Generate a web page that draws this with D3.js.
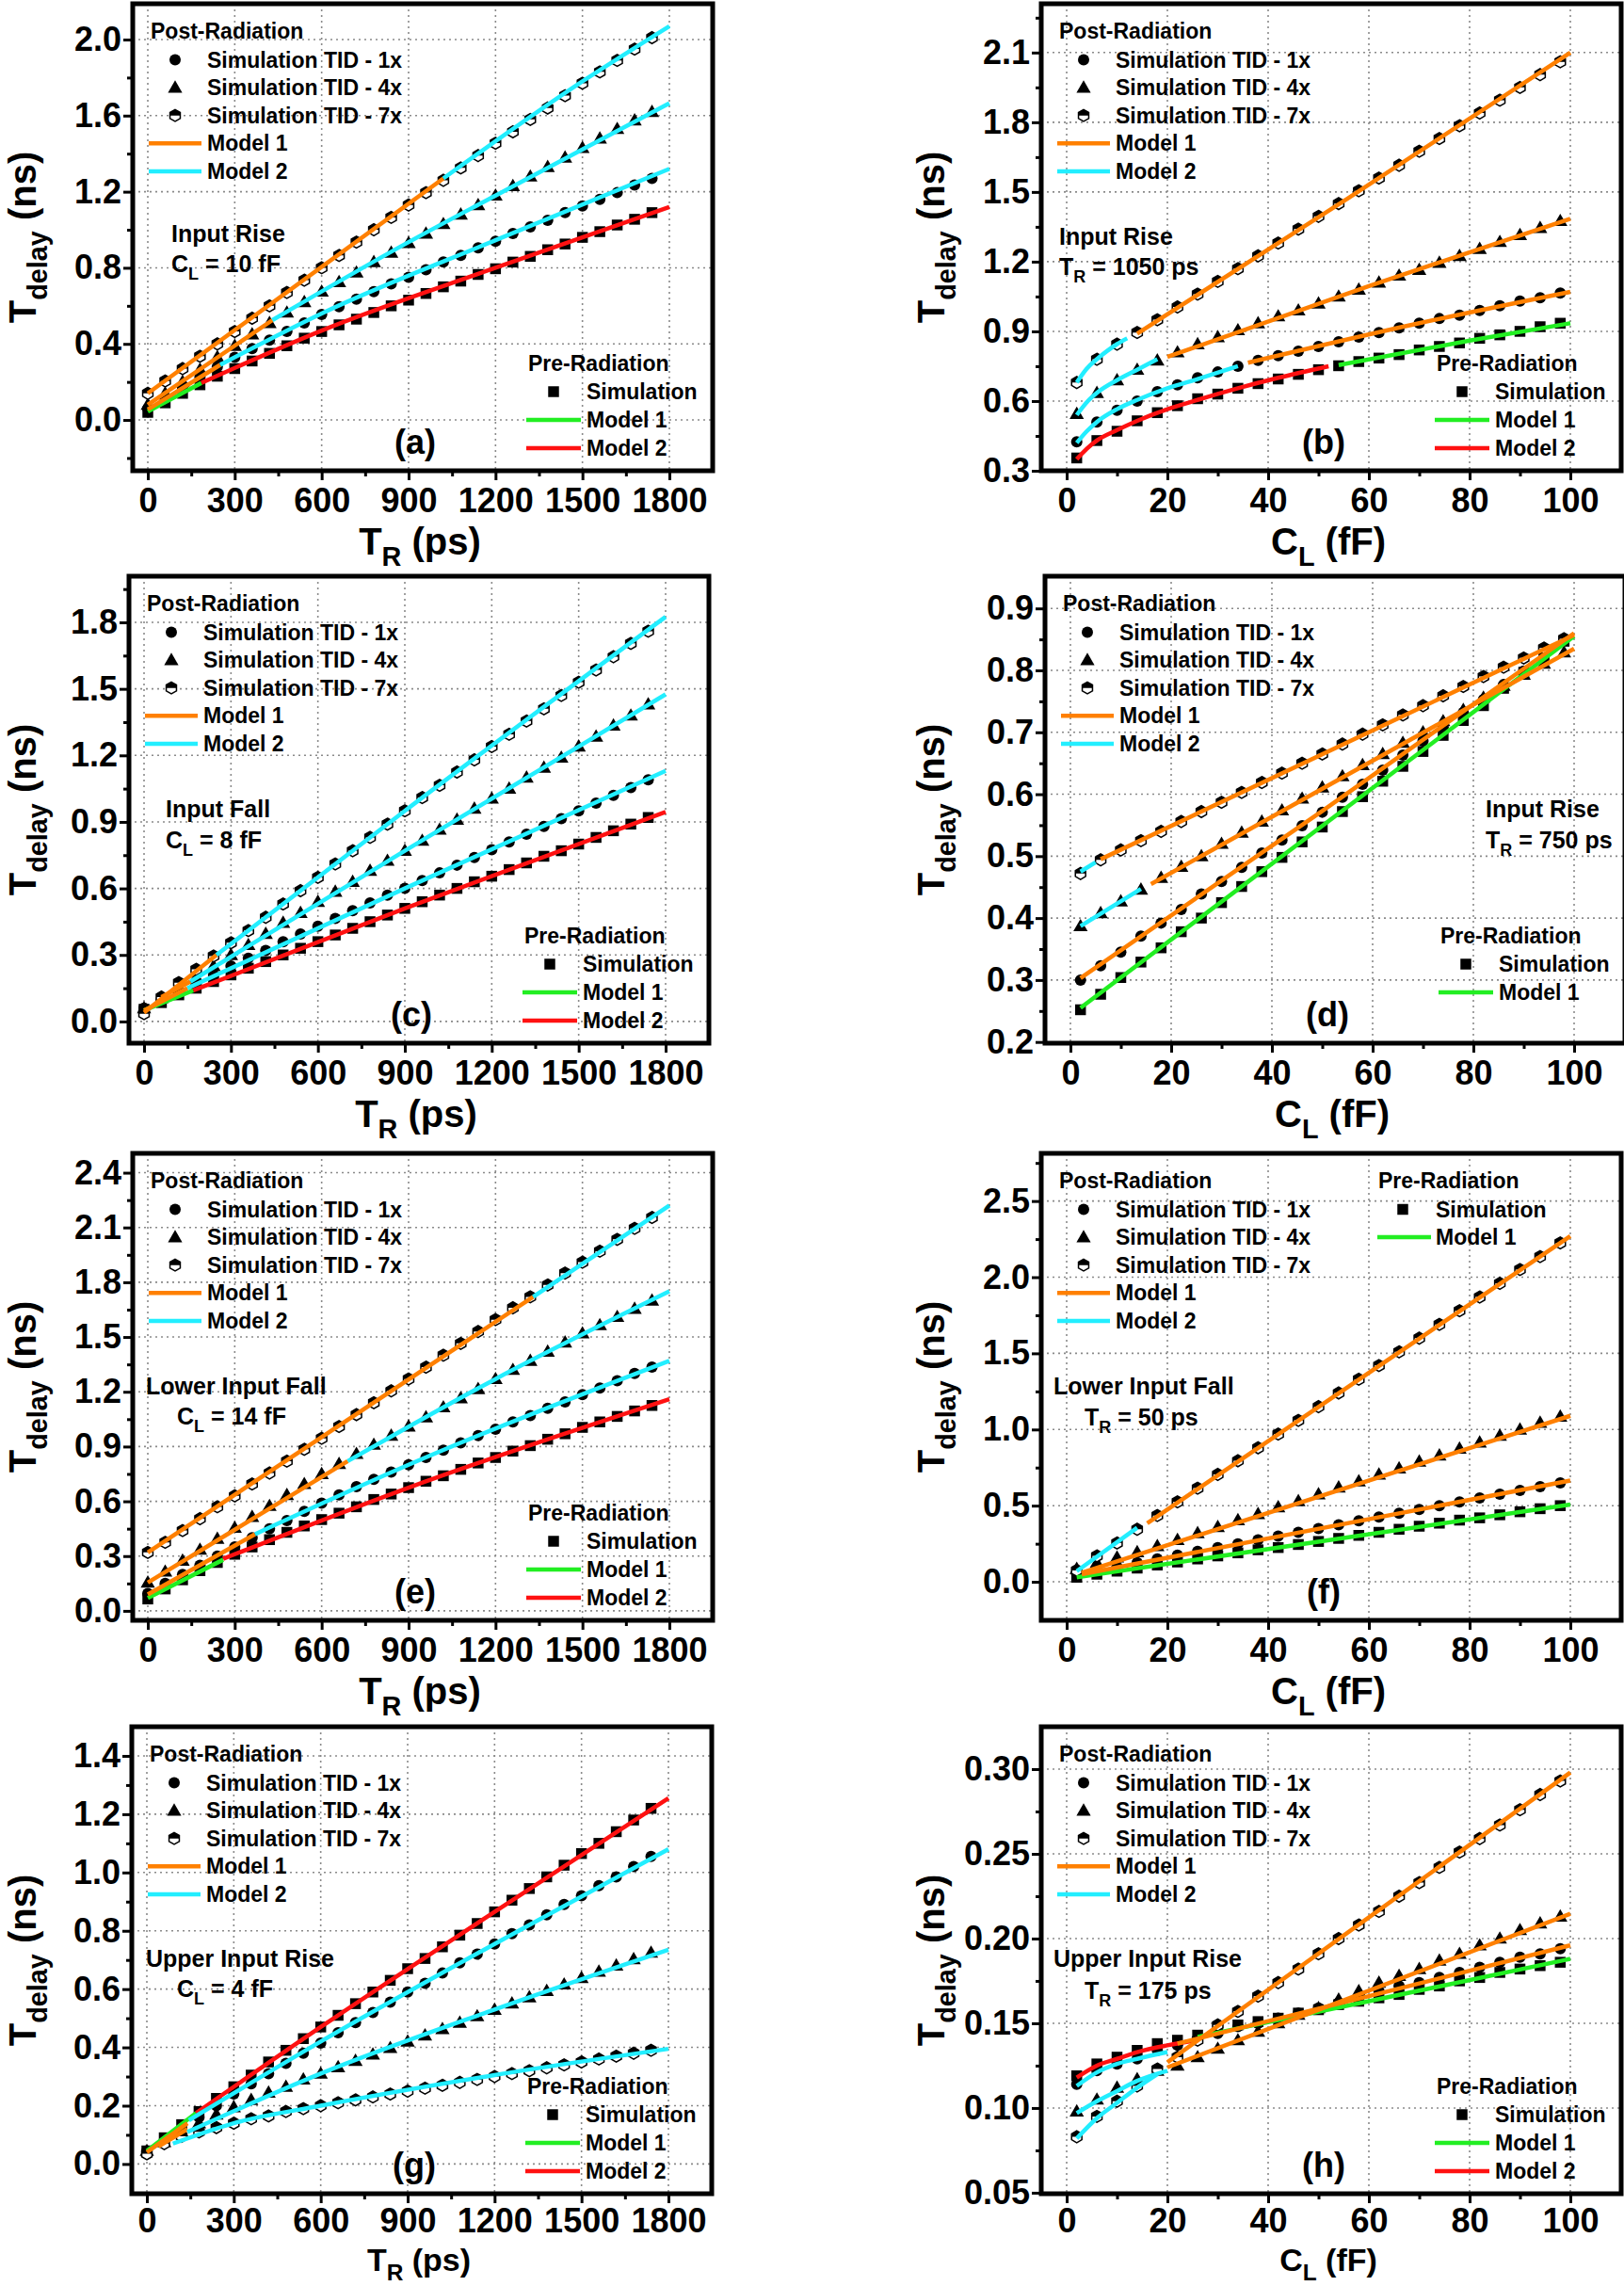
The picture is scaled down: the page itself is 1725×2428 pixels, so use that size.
<!DOCTYPE html>
<html>
<head>
<meta charset="utf-8">
<script src="https://cdn.jsdelivr.net/npm/d3@7"></script>
<style>body{margin:0;background:#fff}</style>
</head>
<body>
<div id="chart"></div>
<script>
// x categories
const trX = [0,60,120,180,240,300,360,420,480,540,600,660,720,780,840,900,960,1020,1080,1140,1200,1260,1320,1380,1440,1500,1560,1620,1680,1740];
const clX = [2,6,10,14,18,22,26,30,34,38,42,46,50,54,58,62,66,70,74,78,82,86,90,94,98];

// tick labels
const trTicks = [0,300,600,900,1200,1500,1800];
const clTicks = [0,20,40,60,80,100];
const aTicks = [0,0.4,0.8,1.2,1.6,2.0];
const bTicks = [0.3,0.6,0.9,1.2,1.5,1.8,2.1];
const cTicks = [0,0.3,0.6,0.9,1.2,1.5,1.8];
const dTicks = [0.2,0.3,0.4,0.5,0.6,0.7,0.8,0.9];
const eTicks = [0,0.3,0.6,0.9,1.2,1.5,1.8,2.1,2.4];
const fTicks = [0,0.5,1.0,1.5,2.0,2.5];
const gTicks = [0,0.2,0.4,0.6,0.8,1.0,1.2,1.4];
const hTicks = [0.05,0.10,0.15,0.20,0.25,0.30];

// (a) Input Rise, CL = 10 fF
const aPre  = [0.04,0.09,0.14,0.185,0.23,0.27,0.31,0.35,0.39,0.43,0.465,0.50,0.53,0.565,0.60,0.63,0.665,0.70,0.73,0.765,0.795,0.83,0.86,0.895,0.925,0.96,0.99,1.025,1.055,1.09];
const aTid1 = [0.06,0.115,0.17,0.225,0.28,0.33,0.375,0.42,0.465,0.51,0.555,0.595,0.635,0.675,0.715,0.75,0.79,0.83,0.865,0.905,0.94,0.98,1.015,1.05,1.09,1.125,1.16,1.195,1.235,1.27];
const aTid4 = [0.08,0.14,0.20,0.265,0.33,0.39,0.45,0.51,0.565,0.62,0.675,0.725,0.775,0.83,0.88,0.93,0.98,1.03,1.08,1.13,1.18,1.23,1.28,1.33,1.38,1.43,1.48,1.53,1.575,1.62];
const aTid7 = [0.14,0.205,0.27,0.335,0.40,0.465,0.535,0.60,0.67,0.735,0.80,0.865,0.935,1.00,1.065,1.13,1.195,1.26,1.325,1.39,1.455,1.515,1.58,1.64,1.705,1.77,1.83,1.89,1.95,2.01];
const aFits = [
  {s:"pre", m:1, pts:[[0,0.045],[185,0.195]]},
  {s:"pre", m:2, pts:[[185,0.195],[600,0.47],[1200,0.80],[1800,1.12]]},
  {s:"tid1", m:1, pts:[[0,0.055],[250,0.29]]},
  {s:"tid1", m:2, pts:[[250,0.29],[600,0.56],[1200,0.945],[1800,1.32]]},
  {s:"tid4", m:1, pts:[[0,0.08],[430,0.525]]},
  {s:"tid4", m:2, pts:[[430,0.525],[900,0.935],[1200,1.18],[1800,1.665]]},
  {s:"tid7", m:1, pts:[[0,0.14],[1020,1.27]]},
  {s:"tid7", m:2, pts:[[1020,1.27],[1500,1.78],[1800,2.07]]}
];

// (b) Input Rise, TR = 1050 ps
const bPre  = [0.355,0.43,0.47,0.515,0.55,0.58,0.61,0.63,0.655,0.675,0.695,0.715,0.735,0.752,0.77,0.785,0.80,0.82,0.835,0.85,0.87,0.885,0.90,0.92,0.935];
const bTid1 = [0.425,0.51,0.56,0.60,0.64,0.67,0.70,0.725,0.75,0.775,0.795,0.815,0.835,0.855,0.875,0.895,0.915,0.935,0.955,0.97,0.99,1.01,1.03,1.045,1.065];
const bTid4 = [0.545,0.635,0.69,0.735,0.775,0.81,0.845,0.875,0.905,0.935,0.965,0.99,1.02,1.05,1.08,1.11,1.14,1.165,1.195,1.225,1.255,1.285,1.315,1.345,1.375];
const bTid7 = [0.68,0.78,0.845,0.895,0.95,1.005,1.06,1.115,1.17,1.225,1.28,1.34,1.395,1.45,1.505,1.56,1.615,1.675,1.73,1.785,1.84,1.895,1.95,2.005,2.06];
const bFits = [
  {s:"pre", m:2, pts:[[2,0.35],[4,0.395],[6,0.43],[10,0.475],[14,0.515],[20,0.565],[26,0.605],[34,0.655],[42,0.70],[52,0.75]]},
  {s:"pre", m:1, pts:[[54,0.755],[80,0.86],[100,0.935]]},
  {s:"tid1", m:2, pts:[[2,0.42],[4,0.47],[6,0.51],[10,0.565],[14,0.605],[20,0.655],[26,0.695],[34,0.75]]},
  {s:"tid1", m:1, pts:[[36,0.765],[70,0.935],[100,1.07]]},
  {s:"tid4", m:2, pts:[[2,0.54],[4,0.595],[6,0.635],[10,0.69],[14,0.735],[18,0.78]]},
  {s:"tid4", m:1, pts:[[20,0.79],[60,1.095],[100,1.385]]},
  {s:"tid7", m:2, pts:[[2,0.68],[4,0.74],[6,0.78],[8,0.815],[10,0.845],[12,0.87]]},
  {s:"tid7", m:1, pts:[[14,0.89],[56,1.475],[100,2.1]]}
];

// (c) Input Fall, CL = 8 fF
const cPre  = [0.055,0.085,0.12,0.15,0.18,0.21,0.24,0.27,0.30,0.33,0.36,0.39,0.42,0.45,0.48,0.51,0.54,0.57,0.60,0.63,0.655,0.685,0.715,0.745,0.77,0.80,0.83,0.86,0.89,0.92];
const cTid1 = [0.06,0.095,0.135,0.17,0.21,0.25,0.285,0.32,0.36,0.395,0.43,0.465,0.50,0.535,0.57,0.60,0.635,0.67,0.705,0.74,0.775,0.81,0.845,0.88,0.915,0.95,0.985,1.02,1.055,1.09];
const cTid4 = [0.06,0.105,0.15,0.20,0.25,0.30,0.345,0.395,0.445,0.49,0.54,0.585,0.63,0.68,0.725,0.77,0.815,0.865,0.91,0.96,1.005,1.05,1.10,1.145,1.19,1.24,1.285,1.335,1.38,1.43];
const cTid7 = [0.035,0.11,0.175,0.235,0.295,0.355,0.41,0.47,0.53,0.59,0.65,0.71,0.77,0.83,0.89,0.95,1.01,1.065,1.125,1.18,1.24,1.295,1.355,1.41,1.47,1.53,1.585,1.645,1.705,1.76];
const cFits = [
  {s:"pre", m:1, pts:[[0,0.05],[170,0.14]]},
  {s:"pre", m:2, pts:[[170,0.14],[900,0.51],[1800,0.945]]},
  {s:"tid1", m:1, pts:[[0,0.05],[150,0.15]]},
  {s:"tid1", m:2, pts:[[150,0.15],[900,0.60],[1800,1.13]]},
  {s:"tid4", m:1, pts:[[60,0.11],[160,0.18]]},
  {s:"tid4", m:2, pts:[[160,0.18],[900,0.77],[1800,1.475]]},
  {s:"tid7", m:1, pts:[[0,0.04],[250,0.30]]},
  {s:"tid7", m:2, pts:[[250,0.30],[900,0.95],[1800,1.825]]}
];

// (d) Input Rise, TR = 750 ps
const dPre  = [0.252,0.277,0.304,0.329,0.352,0.378,0.40,0.425,0.451,0.475,0.498,0.523,0.547,0.572,0.596,0.621,0.645,0.669,0.695,0.719,0.743,0.771,0.797,0.82,0.847];
const dTid1 = [0.30,0.323,0.345,0.371,0.392,0.414,0.439,0.459,0.482,0.505,0.526,0.549,0.571,0.595,0.616,0.639,0.663,0.686,0.708,0.732,0.753,0.777,0.799,0.821,0.85];
const dTid4 = [0.387,0.408,0.427,0.446,0.465,0.483,0.50,0.52,0.538,0.556,0.574,0.593,0.611,0.629,0.647,0.665,0.683,0.70,0.718,0.736,0.756,0.775,0.793,0.811,0.829];
const dTid7 = [0.472,0.494,0.51,0.525,0.54,0.556,0.572,0.587,0.603,0.619,0.634,0.65,0.665,0.681,0.697,0.712,0.728,0.743,0.759,0.774,0.79,0.805,0.82,0.836,0.851];
const dFits = [
  {s:"pre", m:1, pts:[[2,0.255],[100,0.855]]},
  {s:"tid1", m:1, pts:[[2,0.303],[50,0.573],[100,0.86]]},
  {s:"tid4", m:2, pts:[[2,0.387],[14,0.447]]},
  {s:"tid4", m:1, pts:[[16,0.455],[100,0.835]]},
  {s:"tid7", m:2, pts:[[2,0.475],[5,0.49]]},
  {s:"tid7", m:1, pts:[[6,0.495],[100,0.857]]}
];

// (e) Lower Input Fall, CL = 14 fF
const ePre  = [0.065,0.12,0.17,0.22,0.265,0.31,0.35,0.39,0.43,0.465,0.50,0.535,0.57,0.61,0.64,0.675,0.71,0.74,0.775,0.81,0.84,0.875,0.905,0.94,0.97,1.005,1.035,1.065,1.095,1.125];
const eTid1 = [0.095,0.15,0.20,0.25,0.30,0.35,0.40,0.45,0.495,0.545,0.59,0.635,0.68,0.72,0.76,0.80,0.84,0.88,0.92,0.96,0.995,1.035,1.07,1.11,1.145,1.185,1.22,1.26,1.30,1.335];
const eTid4 = [0.155,0.215,0.275,0.335,0.395,0.455,0.515,0.575,0.635,0.695,0.75,0.805,0.86,0.91,0.96,1.01,1.06,1.115,1.165,1.215,1.27,1.32,1.37,1.42,1.47,1.52,1.565,1.61,1.655,1.70];
const eTid7 = [0.32,0.375,0.44,0.505,0.57,0.63,0.695,0.755,0.82,0.885,0.945,1.01,1.075,1.14,1.205,1.27,1.335,1.40,1.465,1.53,1.595,1.66,1.72,1.785,1.85,1.91,1.97,2.035,2.095,2.155];
const eFits = [
  {s:"pre", m:1, pts:[[0,0.07],[260,0.28]]},
  {s:"pre", m:2, pts:[[260,0.285],[900,0.675],[1800,1.16]]},
  {s:"tid1", m:1, pts:[[0,0.09],[370,0.42]]},
  {s:"tid1", m:2, pts:[[370,0.42],[900,0.80],[1800,1.37]]},
  {s:"tid4", m:1, pts:[[0,0.155],[690,0.82]]},
  {s:"tid4", m:2, pts:[[690,0.82],[1200,1.27],[1800,1.75]]},
  {s:"tid7", m:1, pts:[[0,0.32],[1330,1.72]]},
  {s:"tid7", m:2, pts:[[1330,1.72],[1800,2.22]]}
];

// (f) Lower Input Fall, TR = 50 ps
const fPre  = [0.03,0.05,0.07,0.09,0.11,0.13,0.15,0.17,0.19,0.21,0.225,0.245,0.265,0.285,0.305,0.325,0.345,0.365,0.385,0.405,0.42,0.44,0.46,0.48,0.50];
const fTid1 = [0.05,0.075,0.10,0.125,0.15,0.175,0.20,0.225,0.25,0.275,0.30,0.325,0.35,0.375,0.40,0.425,0.45,0.475,0.50,0.525,0.55,0.575,0.60,0.625,0.65];
const fTid4 = [0.085,0.125,0.16,0.195,0.235,0.275,0.32,0.36,0.405,0.445,0.49,0.53,0.575,0.62,0.66,0.705,0.745,0.79,0.83,0.875,0.915,0.96,1.00,1.045,1.085];
const fTid7 = [0.075,0.17,0.255,0.345,0.435,0.525,0.615,0.705,0.795,0.88,0.97,1.06,1.15,1.24,1.33,1.42,1.51,1.60,1.69,1.78,1.87,1.96,2.05,2.135,2.225];
const fFits = [
  {s:"pre", m:1, pts:[[2,0.03],[100,0.507]]},
  {s:"tid1", m:1, pts:[[3,0.05],[100,0.665]]},
  {s:"tid4", m:1, pts:[[3,0.06],[100,1.09]]},
  {s:"tid7", m:2, pts:[[2,0.07],[14,0.355]]},
  {s:"tid7", m:1, pts:[[16,0.385],[100,2.27]]}
];

// (g) Upper Input Rise, CL = 4 fF
const gPre  = [0.045,0.09,0.135,0.18,0.225,0.265,0.305,0.35,0.39,0.43,0.47,0.51,0.55,0.59,0.63,0.67,0.705,0.745,0.785,0.825,0.865,0.905,0.945,0.985,1.025,1.065,1.10,1.14,1.18,1.22];
const gTid1 = [0.045,0.08,0.12,0.16,0.20,0.24,0.275,0.31,0.345,0.38,0.415,0.45,0.485,0.52,0.555,0.59,0.62,0.655,0.69,0.72,0.755,0.79,0.82,0.855,0.89,0.92,0.955,0.985,1.02,1.055];
const gTid4 = [0.045,0.075,0.11,0.14,0.17,0.195,0.22,0.245,0.265,0.29,0.31,0.332,0.354,0.376,0.398,0.42,0.441,0.463,0.485,0.507,0.529,0.551,0.572,0.594,0.616,0.638,0.66,0.681,0.703,0.725];
const gTid7 = [0.035,0.07,0.095,0.11,0.125,0.14,0.155,0.165,0.18,0.19,0.20,0.21,0.22,0.23,0.24,0.25,0.26,0.27,0.28,0.29,0.30,0.31,0.32,0.33,0.34,0.35,0.36,0.37,0.38,0.39];
const gFits = [
  {s:"pre", m:1, pts:[[0,0.045],[170,0.175]]},
  {s:"pre", m:2, pts:[[170,0.175],[600,0.47],[1200,0.865],[1800,1.255]]},
  {s:"tid1", m:1, pts:[[0,0.04],[140,0.14]]},
  {s:"tid1", m:2, pts:[[145,0.15],[600,0.42],[1200,0.755],[1800,1.08]]},
  {s:"tid4", m:1, pts:[[40,0.06],[140,0.12]]},
  {s:"tid4", m:2, pts:[[140,0.11],[600,0.31],[1200,0.53],[1800,0.735]]},
  {s:"tid7", m:2, pts:[[90,0.07],[300,0.14],[600,0.2],[1200,0.305],[1800,0.395]]}
];

// (h) Upper Input Rise, TR = 175 ps
const hPre  = [0.119,0.126,0.130,0.134,0.138,0.14,0.143,0.146,0.149,0.151,0.153,0.156,0.158,0.161,0.163,0.165,0.167,0.17,0.172,0.175,0.177,0.18,0.182,0.184,0.186];
const hTid1 = [0.114,0.122,0.126,0.129,0.134,0.137,0.141,0.144,0.148,0.15,0.153,0.156,0.159,0.162,0.165,0.169,0.172,0.174,0.177,0.18,0.183,0.186,0.189,0.191,0.194];
const hTid4 = [0.098,0.105,0.112,0.117,0.122,0.125,0.13,0.135,0.14,0.145,0.15,0.155,0.159,0.164,0.169,0.174,0.178,0.182,0.187,0.191,0.196,0.20,0.205,0.209,0.213];
const hTid7 = [0.083,0.095,0.104,0.113,0.123,0.13,0.14,0.149,0.157,0.166,0.174,0.182,0.191,0.20,0.208,0.216,0.225,0.233,0.242,0.251,0.259,0.267,0.276,0.285,0.293];
const hFits = [
  {s:"pre", m:2, pts:[[2,0.118],[6,0.125],[10,0.129],[14,0.133],[20,0.137],[26,0.14]]},
  {s:"pre", m:1, pts:[[26,0.142],[60,0.163],[100,0.188]]},
  {s:"tid1", m:2, pts:[[2,0.113],[6,0.121],[10,0.126],[14,0.129],[20,0.133]]},
  {s:"tid1", m:1, pts:[[22,0.138],[60,0.166],[100,0.196]]},
  {s:"tid4", m:2, pts:[[2,0.097],[6,0.104],[10,0.11],[14,0.116],[20,0.122]]},
  {s:"tid4", m:1, pts:[[20,0.124],[100,0.2146]]},
  {s:"tid7", m:2, pts:[[2,0.082],[6,0.094],[10,0.103],[14,0.112],[18,0.12]]},
  {s:"tid7", m:1, pts:[[20,0.127],[100,0.298]]}
];

const W = 1725, H = 2428;
const BW = 616, BH = 496;
const FONT = "'Liberation Sans', Arial, Helvetica, sans-serif";
const ORANGE = "#FF8000", CYAN = "#22EEFF", GREEN = "#22EE22", RED = "#FF1111";

function fitColor(f) {
  if (f.s === "pre") return f.m === 1 ? GREEN : RED;
  return f.m === 1 ? ORANGE : CYAN;
}

const panels = [
  {tag:"(a)", kind:"tr", left:141, top:4, yDom:[-0.267,2.188], yTicks:aTicks, fmt:".1f",
   pre:aPre, tid1:aTid1, tid4:aTid4, tid7:aTid7, fits:aFits, preAt:"bottom", preModels:2,
   note:[{x:182, y:249, p:["Input Rise"]}, {x:182, y:281, p:["C","L"," = 10 fF"]}]},
  {tag:"(b)", kind:"cl", left:1106, top:4, yDom:[0.3,2.31], yTicks:bTicks, fmt:".1f",
   pre:bPre, tid1:bTid1, tid4:bTid4, tid7:bTid7, fits:bFits, preAt:"bottom", preModels:2,
   note:[{x:1125, y:252, p:["Input Rise"]}, {x:1125, y:284, p:["T","R"," = 1050 ps"]}]},
  {tag:"(c)", kind:"tr", left:137, top:612, yDom:[-0.098,2.008], yTicks:cTicks, fmt:".1f",
   pre:cPre, tid1:cTid1, tid4:cTid4, tid7:cTid7, fits:cFits, preAt:"bottom", preModels:2,
   note:[{x:176, y:860, p:["Input Fall"]}, {x:176, y:893, p:["C","L"," = 8 fF"]}]},
  {tag:"(d)", kind:"cl", left:1110, top:612, yDom:[0.198,0.952], yTicks:dTicks, fmt:".1f",
   pre:dPre, tid1:dTid1, tid4:dTid4, tid7:dTid7, fits:dFits, preAt:"bottom", preModels:1,
   note:[{x:1578, y:860, p:["Input Rise"]}, {x:1578, y:893, p:["T","R"," = 750 ps"]}]},
  {tag:"(e)", kind:"tr", left:141, top:1225, yDom:[-0.052,2.506], yTicks:eTicks, fmt:".1f",
   pre:ePre, tid1:eTid1, tid4:eTid4, tid7:eTid7, fits:eFits, preAt:"bottom", preModels:2,
   note:[{x:155, y:1473, p:["Lower Input Fall"]}, {x:188, y:1505, p:["C","L"," = 14 fF"]}]},
  {tag:"(f)", kind:"cl", left:1106, top:1225, yDom:[-0.253,2.813], yTicks:fTicks, fmt:".1f",
   pre:fPre, tid1:fTid1, tid4:fTid4, tid7:fTid7, fits:fFits, preAt:"top", preModels:1,
   note:[{x:1119, y:1473, p:["Lower Input Fall"]}, {x:1152, y:1506, p:["T","R"," = 50 ps"]}]},
  {tag:"(g)", kind:"tr", left:140, top:1834, yDom:[-0.102,1.5], yTicks:gTicks, fmt:".1f",
   pre:gPre, tid1:gTid1, tid4:gTid4, tid7:gTid7, fits:gFits, preAt:"bottom", preModels:2,
   note:[{x:155, y:2081, p:["Upper Input Rise"]}, {x:188, y:2113, p:["C","L"," = 4 fF"]}]},
  {tag:"(h)", kind:"cl", left:1106, top:1834, yDom:[0.0494,0.325], yTicks:hTicks, fmt:".2f",
   pre:hPre, tid1:hTid1, tid4:hTid4, tid7:hTid7, fits:hFits, preAt:"bottom", preModels:2,
   note:[{x:1119, y:2081, p:["Upper Input Rise"]}, {x:1152, y:2115, p:["T","R"," = 175 ps"]}]}
];

const svg = d3.select("#chart").append("svg")
  .attr("width", W)
  .attr("height", H)
  .style("background-color", "#FFFFFF");

// text with an optional subscript: [main, sub, rest]
function subText(g, x, y, parts, size, anchor) {
  const t = g.append("text")
    .attr("x", x).attr("y", y)
    .attr("font-family", FONT)
    .attr("font-weight", "bold")
    .attr("font-size", size)
    .attr("text-anchor", anchor || "start")
    .attr("fill", "#000");
  t.append("tspan").text(parts[0]);
  if (parts[1]) {
    t.append("tspan").attr("dy", size * 0.3).attr("font-size", size * 0.72).text(parts[1]);
    t.append("tspan").attr("dy", -size * 0.3).text(parts[2] || "");
  }
  return t;
}

function marker(g, type, x, y) {
  if (type === "pre") {
    g.append("path").attr("d", d3.symbol().type(d3.symbolSquare).size(132)())
      .attr("transform", `translate(${x},${y})`).attr("fill", "#000");
  } else if (type === "tid1") {
    g.append("circle").attr("cx", x).attr("cy", y).attr("r", 6).attr("fill", "#000");
  } else if (type === "tid4") {
    g.append("path").attr("d", d3.symbol().type(d3.symbolTriangle).size(100)())
      .attr("transform", `translate(${x},${y + 1})`).attr("fill", "#000");
  } else {
    const r = 6.3, a = r * 0.866;
    const hex = [[0,-r],[a,-r/2],[a,r/2],[0,r],[-a,r/2],[-a,-r/2]];
    const top = [[-a,0],[-a,-r/2],[0,-r],[a,-r/2],[a,0]];
    const gg = g.append("g").attr("transform", `translate(${x},${y})`);
    gg.append("path").attr("d", "M" + hex.join("L") + "Z")
      .attr("fill", "#fff").attr("stroke", "#000").attr("stroke-width", 1.5);
    gg.append("path").attr("d", "M" + top.join("L") + "Z").attr("fill", "#000");
  }
}

function legendLine(g, x1, x2, y, color) {
  g.append("line").attr("x1", x1).attr("x2", x2).attr("y1", y).attr("y2", y)
    .attr("stroke", color).attr("stroke-width", 4.5);
}

panels.forEach(p => {
  const L = p.left, T = p.top, R = L + BW, B = T + BH;
  const g = svg.append("g");
  const isTR = p.kind === "tr";
  const lastRow = B + 100 > H;

  const x = isTR
    ? d3.scaleLinear().domain([0, 1800]).range([L + 16, L + 570])
    : d3.scaleLinear().domain([0, 100]).range([L + 27, L + 562]);
  const y = d3.scaleLinear().domain(p.yDom).range([B, T]);
  const xTicks = isTR ? trTicks : clTicks;
  const xs = isTR ? trX : clX;
  const step = xTicks[1] - xTicks[0];
  const xMinor = xTicks.slice(0, -1).map(v => v + step / 2);
  const ystep = p.yTicks[1] - p.yTicks[0];
  const yMinor = p.yTicks.map(v => v + ystep / 2).filter(v => y(v) > T + 3);
  if (y(p.yTicks[0] - ystep / 2) < B - 3) yMinor.unshift(p.yTicks[0] - ystep / 2);

  // dotted grid
  g.selectAll(".gx").data(xTicks).enter().append("line")
    .attr("x1", d => x(d)).attr("x2", d => x(d)).attr("y1", T).attr("y2", B)
    .attr("stroke", "#8a8a8a").attr("stroke-width", 1.6).attr("stroke-dasharray", "2,4");
  g.selectAll(".gy").data(p.yTicks.filter(v => y(v) < B - 4)).enter().append("line")
    .attr("x1", L).attr("x2", R).attr("y1", d => y(d)).attr("y2", d => y(d))
    .attr("stroke", "#8a8a8a").attr("stroke-width", 1.6).attr("stroke-dasharray", "2,4");

  // simulation markers
  ["pre", "tid1", "tid4", "tid7"].forEach(s => {
    p[s].forEach((v, i) => marker(g, s, x(xs[i]), y(v)));
  });

  // model fits
  const line = d3.line().x(d => x(d[0])).y(d => y(d[1])).curve(d3.curveMonotoneX);
  p.fits.forEach(f => {
    g.append("path").attr("d", line(f.pts)).attr("fill", "none")
      .attr("stroke", fitColor(f)).attr("stroke-width", 4.5).attr("stroke-linecap", "butt");
  });

  // frame
  g.append("rect").attr("x", L).attr("y", T).attr("width", BW).attr("height", BH)
    .attr("fill", "none").attr("stroke", "#000").attr("stroke-width", 5);

  // axes
  const yAxis = g.append("g").attr("transform", `translate(${L},0)`)
    .call(d3.axisLeft(y).tickValues(p.yTicks).tickFormat(d3.format(p.fmt)).tickSizeInner(10).tickSizeOuter(0).tickPadding(2));
  g.append("g").attr("transform", `translate(${L},0)`)
    .call(d3.axisLeft(y).tickValues(yMinor).tickFormat("").tickSizeInner(6).tickSizeOuter(0));
  const xAxis = g.append("g").attr("transform", `translate(0,${B})`)
    .call(d3.axisBottom(x).tickValues(xTicks).tickFormat(d3.format("d")).tickSizeInner(10).tickSizeOuter(0).tickPadding(lastRow ? 5 : 8));
  g.append("g").attr("transform", `translate(0,${B})`)
    .call(d3.axisBottom(x).tickValues(xMinor).tickFormat("").tickSizeInner(6).tickSizeOuter(0));
  g.selectAll(".domain").remove();
  g.selectAll(".tick line").attr("stroke", "#000").attr("stroke-width", 3);
  [yAxis, xAxis].forEach(ax => ax.selectAll("text")
    .attr("font-family", FONT).attr("font-weight", "bold").attr("font-size", 36).attr("fill", "#000"));

  // axis titles
  const titleX = L < 800 ? 38 : 1003;
  subText(g, 0, 0, ["T", "delay", " (ns)"], 40, "middle")
    .attr("transform", `translate(${titleX},${T + BH / 2}) rotate(-90)`);
  const xtY = lastRow ? H - 16 : B + 89;
  const xtSize = lastRow ? 34 : 40;
  if (isTR) subText(g, L + 305, xtY, ["T", "R", " (ps)"], xtSize, "middle");
  else subText(g, L + 305, xtY, ["C", "L", " (fF)"], xtSize, "middle");

  // panel tag
  g.append("text").attr("x", L + 300).attr("y", B - 31).attr("dy", "0.35em")
    .attr("text-anchor", "middle").attr("font-family", FONT).attr("font-weight", "bold")
    .attr("font-size", 36).text(p.tag);

  // condition note
  p.note.forEach(n => subText(g, n.x, n.y + 8, n.p, 25));

  // post-radiation legend
  const fs = 23;
  g.append("text").attr("x", L + 19).attr("y", T + 37)
    .attr("font-family", FONT).attr("font-weight", "bold").attr("font-size", fs).text("Post-Radiation");
  const postRows = [["tid1", "Simulation TID - 1x"], ["tid4", "Simulation TID - 4x"], ["tid7", "Simulation TID - 7x"], [ORANGE, "Model 1"], [CYAN, "Model 2"]];
  postRows.forEach((r, i) => {
    const yy = T + 59.5 + 29.6 * i;
    if (i < 3) marker(g, r[0], L + 45, yy);
    else legendLine(g, L + 17, L + 73, yy, r[0]);
    g.append("text").attr("x", L + 79).attr("y", yy + 8)
      .attr("font-family", FONT).attr("font-weight", "bold").attr("font-size", fs).text(r[1]);
  });

  // pre-radiation legend
  const preRows = [["pre", "Simulation"], [GREEN, "Model 1"], [RED, "Model 2"]].slice(0, 1 + p.preModels);
  let tx, ty, mx, lx1, lx2, txx, rowY;
  if (p.preAt === "top") {
    tx = L + 358; ty = T + 30; mx = L + 384; lx1 = L + 357; lx2 = L + 414; txx = L + 419;
    rowY = i => T + 59.5 + 29.6 * i;
  } else {
    tx = R - 196; ty = B - 113; mx = R - 169; lx1 = R - 198; lx2 = R - 140; txx = R - 134;
    rowY = i => B - 84 + 30 * i;
  }
  g.append("text").attr("x", tx).attr("y", ty + 7)
    .attr("font-family", FONT).attr("font-weight", "bold").attr("font-size", fs).text("Pre-Radiation");
  preRows.forEach((r, i) => {
    const yy = rowY(i);
    if (i === 0) marker(g, "pre", mx, yy);
    else legendLine(g, lx1, lx2, yy, r[0]);
    g.append("text").attr("x", txx).attr("y", yy + 8)
      .attr("font-family", FONT).attr("font-weight", "bold").attr("font-size", fs).text(r[1]);
  });
});
</script>
</body>
</html>
